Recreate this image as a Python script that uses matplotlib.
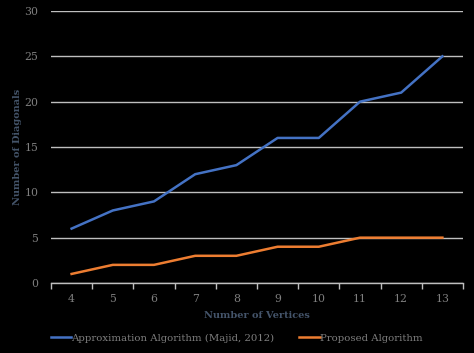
import numpy as np
import matplotlib.pyplot as plt

vertices = [4, 5, 6, 7, 8, 9, 10, 11, 12, 13]
approx = [6, 8, 9, 12, 13, 16, 16, 20, 21, 25]
proposed = [1, 2, 2, 3, 3, 4, 4, 5, 5, 5]

plt.rcParams['font.family'] = ['DejaVu Serif']

fig = plt.figure(figsize=(4.74, 3.53), dpi=100, facecolor='black')
ax = fig.add_axes([51/474, 1-283/353, 412/474, 272/353])
ax.set_facecolor('black')

ax.plot(vertices, approx, color='#4472C4', linewidth=1.8, label='Approximation Algorithm (Majid, 2012)')
ax.plot(vertices, proposed, color='#ED7D31', linewidth=1.8, label='Proposed Algorithm')

ax.set_xlim(3.5, 13.5)
ax.set_ylim(0, 30)
ax.set_yticks(range(0, 31, 5))
ax.set_xticks(vertices)
ax.set_xticks(np.arange(3.5, 13.6, 1), minor=True)
ax.yaxis.grid(True, color='#bfbfbf', linewidth=1)
ax.set_axisbelow(True)
for s in ['top', 'right', 'left']:
    ax.spines[s].set_visible(False)
ax.spines['bottom'].set_color('#bfbfbf')
ax.spines['bottom'].set_linewidth(1)
ax.tick_params(axis='y', length=0, colors='#7f7f7f', labelsize=7.8, pad=9)
ax.tick_params(axis='x', which='major', length=0, colors='#7f7f7f', labelsize=7.8, pad=8)
ax.tick_params(axis='x', which='minor', length=4, color='#bfbfbf', width=1)

ax.set_xlabel('Number of Vertices', color='#44546A', fontsize=7, fontweight='bold', labelpad=5)
ax.set_ylabel('Number of Diagonals', color='#44546A', fontsize=7, fontweight='bold', labelpad=2)

leg = ax.legend(loc='center', bbox_to_anchor=(0.45, -0.202), ncol=2, frameon=False,
                fontsize=7.3, handlelength=2, handletextpad=0, columnspacing=2.5)
for t in leg.get_texts():
    t.set_color('#7f7f7f')

fig.savefig('out.png', facecolor='black')
